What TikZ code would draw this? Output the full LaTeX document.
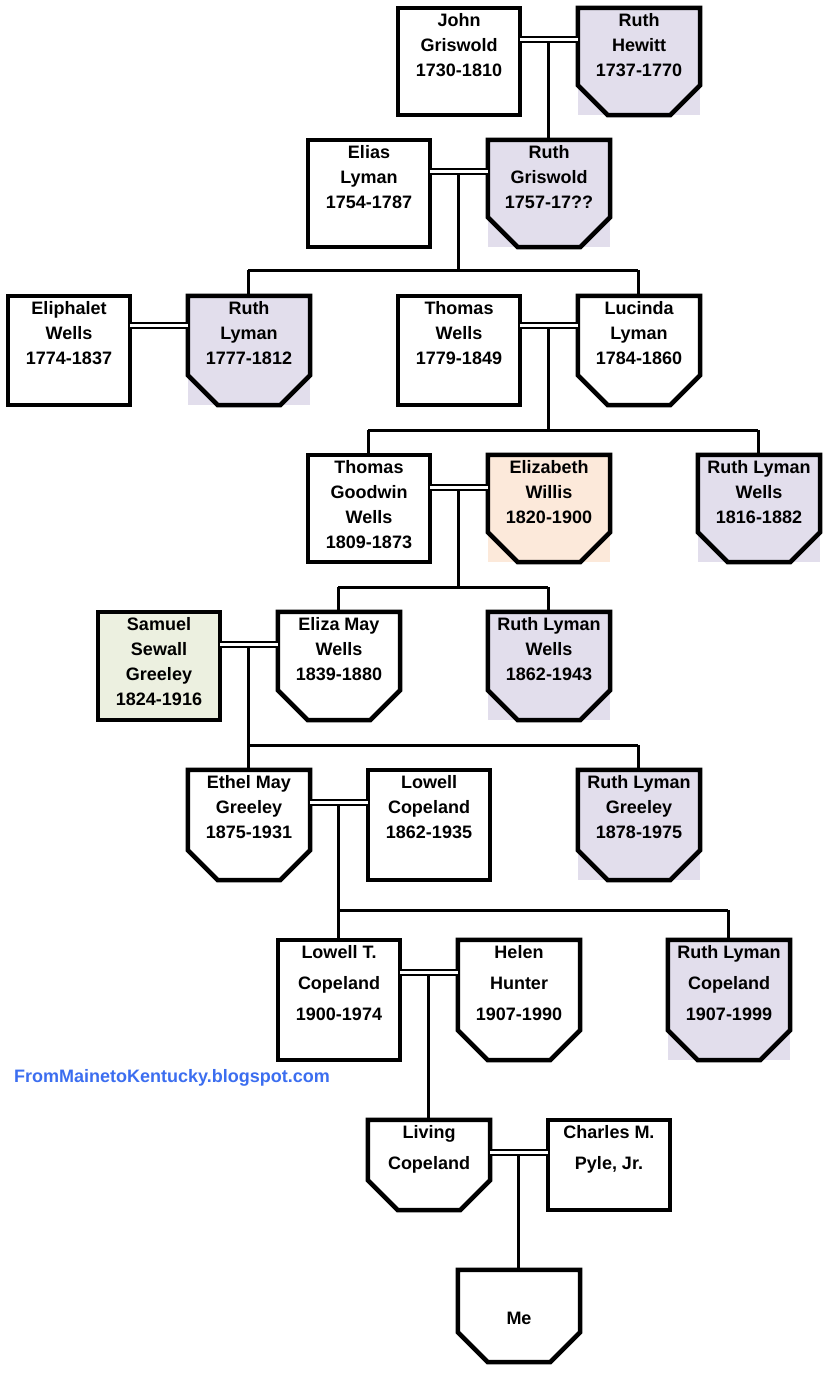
\documentclass[tikz,border=0pt]{standalone}
\usepackage{fontspec}
\setmainfont{Liberation Sans}
\usetikzlibrary{calc}
\definecolor{lav}{HTML}{E2DEEC}
\definecolor{peach}{HTML}{FCE9DA}
\definecolor{sage}{HTML}{ECF0E0}
\definecolor{webblue}{HTML}{3C6EF0}
\tikzset{
  boxo/.style={line width=4.5pt,line join=miter},
  con/.style={line width=3pt},
  marr/.style={double=white,double distance=3pt,line width=2pt},
  txt/.style={anchor=north,align=center,font=\bfseries\fontsize{18}{25}\selectfont,inner sep=0pt},
  txtb/.style={anchor=north,align=center,font=\bfseries\fontsize{18}{31}\selectfont,inner sep=0pt}
}
% #1 name, #2 x1, #3 y1, #4 x2, #5 y2, #6 fill, #7 text, #8 style, #9 f/m
\newcommand\person[9]{%
  \path[fill=#6] (#2,#3) rectangle (#4,#5);
  \node[minimum width=#4-#2,minimum height=#5-#3,inner sep=0pt,draw=none] (#1) at ({(#2+#4)/2},{(#3+#5)/2}) {};
  \if#9f
    \draw[boxo] (#1.north west) -- (#1.north east) -- ($(#1.south east)+(0,-30)$) -- ($(#1.south east)+(-30,0)$) -- ($(#1.south west)+(30,0)$) -- ($(#1.south west)+(0,-30)$) -- cycle;
  \else
    \draw[boxo] (#1.north west) rectangle (#1.south east);
  \fi
  \node[#8] (#1t) at ($(#1.north)+(0,5)$) {#7};
}
\begin{document}
\begin{tikzpicture}[x=1pt,y=-1pt]
\useasboundingbox (0,0) rectangle (828,1380);
\fill[white] (0,0) rectangle (828,1380);
% connectors first
\coordinate (m1) at (548,40);
\coordinate (m2) at (458,172);
\coordinate (h2) at (458,270);
\coordinate (h2l) at (248,270);
\coordinate (h2r) at (638,270);
\coordinate (m3) at (548,325);
\coordinate (h3) at (548,430);
\coordinate (h3l) at (368,430);
\coordinate (h3r) at (758,430);
\coordinate (m4) at (458,487);
\coordinate (h4) at (458,587);
\coordinate (h4l) at (338,587);
\coordinate (h4r) at (548,587);
\coordinate (m5) at (248,644);
\coordinate (h5r) at (638,745);
\coordinate (h5l) at (248,745);
\coordinate (m6) at (338,802);
\coordinate (h6l) at (338,910);
\coordinate (h6r) at (728,910);
\coordinate (m7) at (428,972);
\coordinate (m8) at (518,1152);

\person{jg}{398}{8}{520}{115}{white}{John\\Griswold\\1730-1810}{txt}{m}
\person{rh}{578}{8}{700}{115}{lav}{Ruth\\Hewitt\\1737-1770}{txt}{f}
\person{el}{308}{140}{430}{247}{white}{Elias\\Lyman\\1754-1787}{txt}{m}
\person{rg}{488}{140}{610}{247}{lav}{Ruth\\Griswold\\1757-17??}{txt}{f}
\person{ew}{8}{296}{130}{405}{white}{Eliphalet\\Wells\\1774-1837}{txt}{m}
\person{rl}{188}{296}{310}{405}{lav}{Ruth\\Lyman\\1777-1812}{txt}{f}
\person{tw}{398}{296}{520}{405}{white}{Thomas\\Wells\\1779-1849}{txt}{m}
\person{ll}{578}{296}{700}{405}{white}{Lucinda\\Lyman\\1784-1860}{txt}{f}
\person{tgw}{308}{455}{430}{562}{white}{Thomas\\Goodwin\\Wells\\1809-1873}{txt}{m}
\person{ewi}{488}{455}{610}{562}{peach}{Elizabeth\\Willis\\1820-1900}{txt}{f}
\person{rlw}{698}{455}{820}{562}{lav}{Ruth Lyman\\Wells\\1816-1882}{txt}{f}
\person{ssg}{98}{612}{220}{720}{sage}{Samuel\\Sewall\\Greeley\\1824-1916}{txt}{m}
\person{emw}{278}{612}{400}{720}{white}{Eliza May\\Wells\\1839-1880}{txt}{f}
\person{rlw2}{488}{612}{610}{720}{lav}{Ruth Lyman\\Wells\\1862-1943}{txt}{f}
\person{emg}{188}{770}{310}{880}{white}{Ethel May\\Greeley\\1875-1931}{txt}{f}
\person{lc}{368}{770}{490}{880}{white}{Lowell\\Copeland\\1862-1935}{txt}{m}
\person{rlg}{578}{770}{700}{880}{lav}{Ruth Lyman\\Greeley\\1878-1975}{txt}{f}
\person{ltc}{278}{940}{400}{1060}{white}{Lowell T.\\Copeland\\1900-1974}{txtb}{m}
\person{hh}{458}{940}{580}{1060}{white}{Helen\\Hunter\\1907-1990}{txtb}{f}
\person{rlc}{668}{940}{790}{1060}{lav}{Ruth Lyman\\Copeland\\1907-1999}{txtb}{f}
\person{lic}{368}{1120}{490}{1210}{white}{Living\\Copeland}{txtb}{f}
\person{cmp}{548}{1120}{670}{1210}{white}{Charles M.\\Pyle, Jr.}{txtb}{m}
\path[fill=white] (458,1270) rectangle (580,1362);
\node[minimum width=122,minimum height=92,inner sep=0pt] (me) at (519,1316) {};
\draw[boxo] (me.north west) -- (me.north east) -- ($(me.south east)+(0,-30)$) -- ($(me.south east)+(-30,0)$) -- ($(me.south west)+(30,0)$) -- ($(me.south west)+(0,-30)$) -- cycle;
\node[font=\bfseries\fontsize{18}{25}\selectfont] (met) at (519,1318) {Me};

% marriages
\draw[marr] (jg.east |- m1) -- (rh.west |- m1);
\draw[marr] (el.east |- m2) -- (rg.west |- m2);
\draw[marr] (ew.east |- 0,325) -- (rl.west |- 0,325);
\draw[marr] (tw.east |- m3) -- (ll.west |- m3);
\draw[marr] (tgw.east |- m4) -- (ewi.west |- m4);
\draw[marr] (ssg.east |- m5) -- (emw.west |- m5);
\draw[marr] (emg.east |- m6) -- (lc.west |- m6);
\draw[marr] (ltc.east |- m7) -- (hh.west |- m7);
\draw[marr] (lic.east |- m8) -- (cmp.west |- m8);
% descent
\draw[con] ($(m1)+(0,3)$) -- (rg.north -| m1);
\draw[con] ($(m2)+(0,3)$) -- (h2);
\draw[con] (h2l) -- (h2r);
\draw[con] (h2l) -- (rl.north -| h2l);
\draw[con] (h2r) -- (ll.north -| h2r);
\draw[con] ($(m3)+(0,3)$) -- (h3);
\draw[con] (h3l) -- (h3r);
\draw[con] (h3l) -- (tgw.north -| h3l);
\draw[con] (h3r) -- (rlw.north -| h3r);
\draw[con] ($(m4)+(0,3)$) -- (h4);
\draw[con] (h4l) -- (h4r);
\draw[con] (h4l) -- (emw.north -| h4l);
\draw[con] (h4r) -- (rlw2.north -| h4r);
\draw[con] ($(m5)+(0,3)$) -- (emg.north -| m5);
\draw[con] (h5l) -- (h5r);
\draw[con] (h5r) -- (rlg.north -| h5r);
\draw[con] ($(m6)+(0,3)$) -- (ltc.north -| m6);
\draw[con] (h6l) -- (h6r);
\draw[con] (h6r) -- (rlc.north -| h6r);
\draw[con] ($(m7)+(0,3)$) -- (lic.north -| m7);
\draw[con] ($(m8)+(0,3)$) -- (me.north -| m8);

\node[anchor=west,text=webblue,font=\bfseries\fontsize{18}{22}\selectfont,inner sep=0pt] (web) at (14,1078) {FromMainetoKentucky.blogspot.com};
\end{tikzpicture}
\end{document}
